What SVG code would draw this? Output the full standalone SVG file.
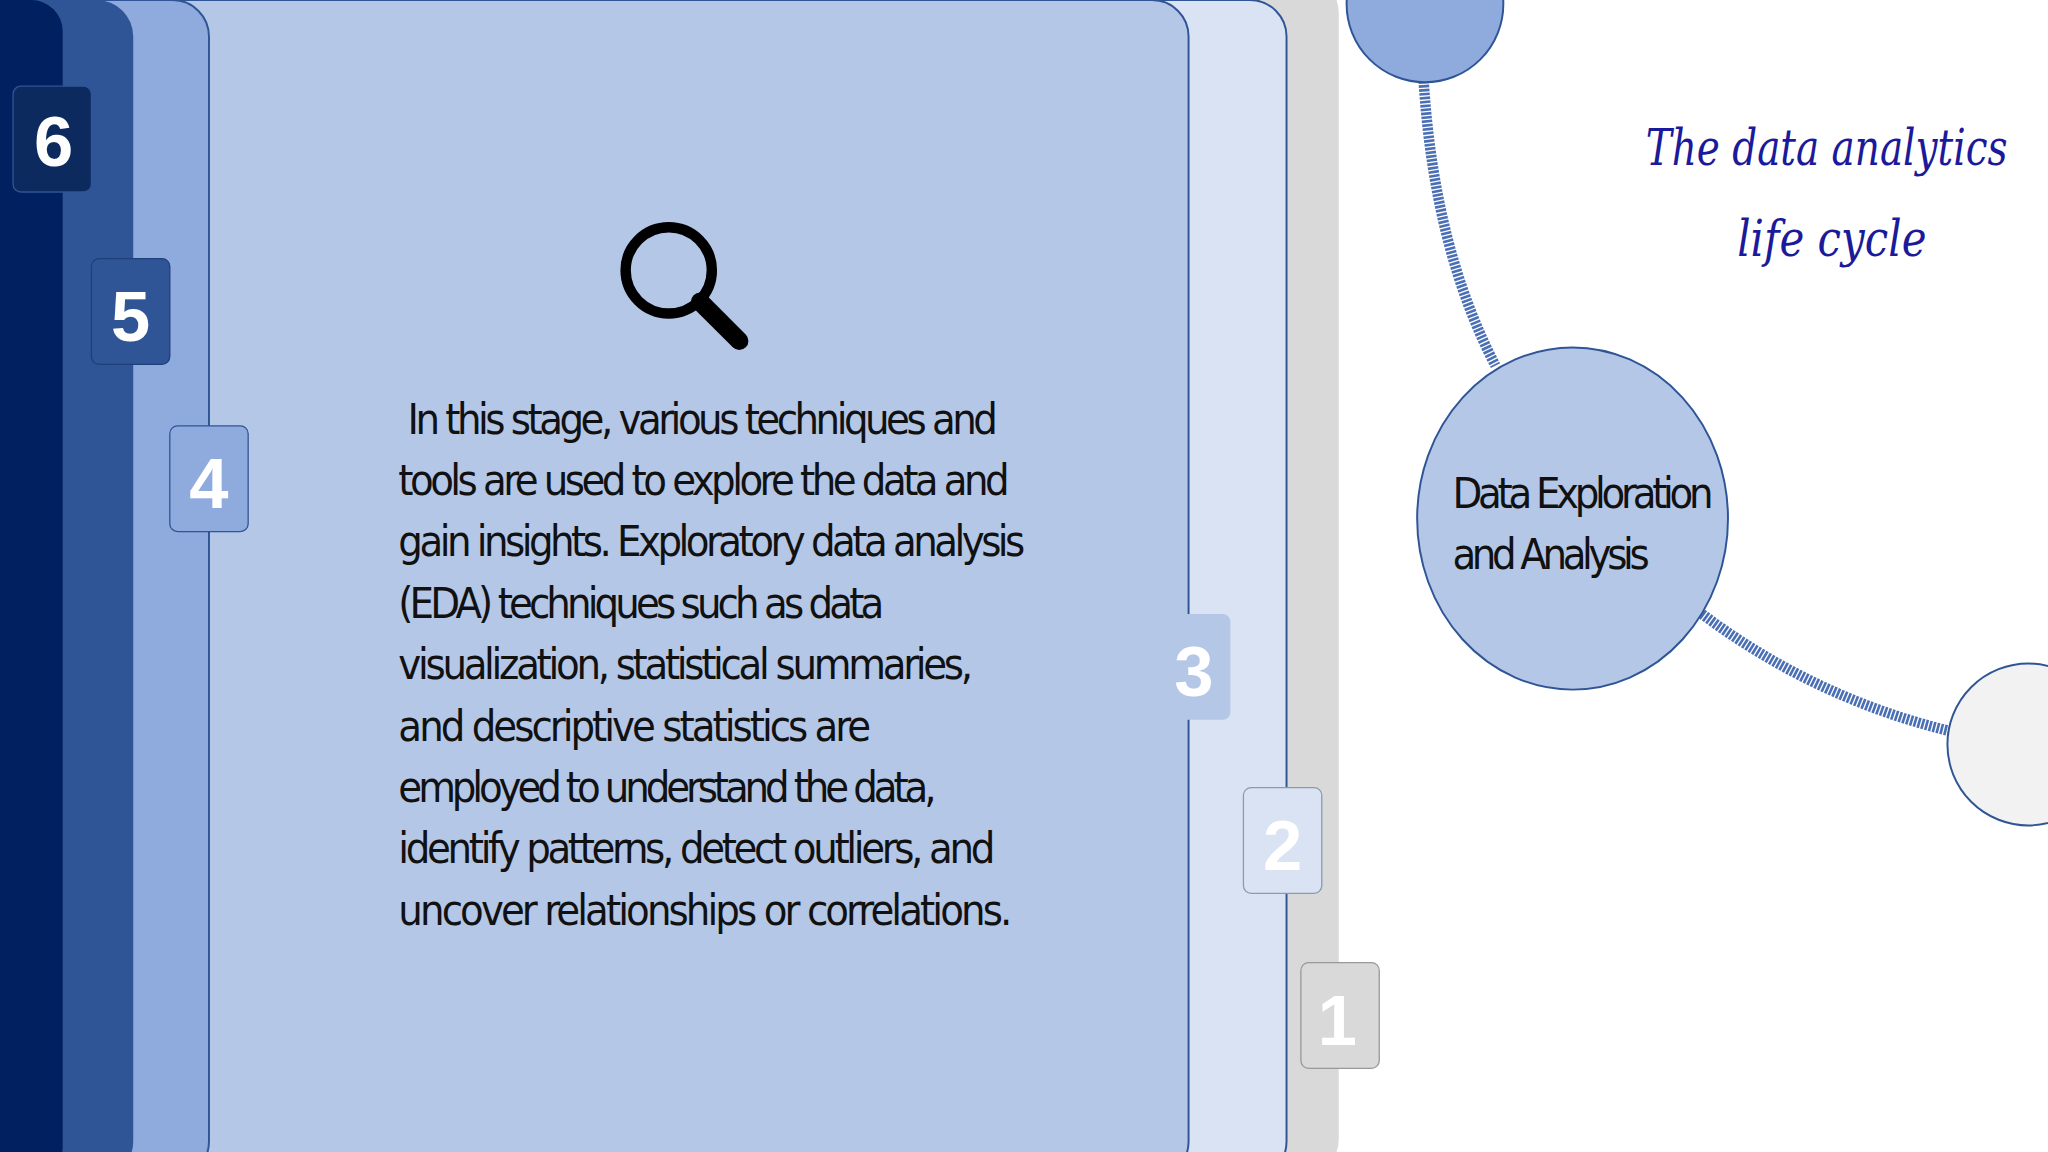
<svg xmlns="http://www.w3.org/2000/svg" width="2048" height="1152" viewBox="0 0 2048 1152">
<style>
.num{font-family:"Liberation Sans",Arial,sans-serif;font-weight:bold;font-size:54px;fill:#fff;text-anchor:middle}
.body{font-family:"DejaVu Sans Condensed","Liberation Sans Narrow","Liberation Sans",sans-serif;font-size:33px;fill:#111;font-stretch:condensed}
.tab{stroke:#2f5597;stroke-width:1}
.conn{fill:none;stroke:#4a6fb5;stroke-width:8;stroke-dasharray:2 1}
</style>
<rect width="2048" height="1152" fill="#fff"/>
<g transform="scale(1.30612)">
<g id="panel1"><rect x="-40" y="-20" width="1065" height="922" rx="30" fill="#d9d9d9"/></g>
<g id="panel2"><rect x="-40" y="0" width="1025" height="902" rx="28" fill="#dae3f3" stroke="#2f5597" stroke-width="1.5"/></g>
<g id="panel3"><rect x="-40" y="0" width="950" height="902" rx="28" fill="#b4c7e7" stroke="#2f5597" stroke-width="1.5"/></g>
<g id="panel4"><rect x="-40" y="0" width="200" height="902" rx="28" fill="#8faadc" stroke="#2f5597" stroke-width="1.5"/></g>
<g id="panel5"><rect x="-40" y="0" width="142" height="902" rx="28" fill="#2f5597"/></g>
<g id="panel6"><rect x="-40" y="0" width="88" height="902" rx="24" fill="#002060"/></g>
<g id="tab6"><rect x="10" y="66" width="60" height="81" rx="6" fill="#0c2a5e" class="tab"/><text class="num" x="41" y="127">6</text></g>
<g id="tab5"><rect x="70" y="198" width="60" height="81" rx="6" fill="#2f5597" stroke="#1f3f7a"/><text class="num" x="100" y="261">5</text></g>
<g id="tab4"><rect x="130" y="326" width="60" height="81" rx="6" fill="#8faadc" class="tab"/><text class="num" x="160" y="389">4</text></g>
<g id="tab3"><rect x="882" y="470" width="60" height="81" rx="6" fill="#b4c7e7" stroke="none"/><text class="num" x="914" y="533">3</text></g>
<g id="tab2"><rect x="952" y="603" width="60" height="81" rx="6" fill="#dae3f3" stroke="#8a9ab0"/><text class="num" x="982" y="666">2</text></g>
<g id="tab1"><rect x="996" y="737" width="60" height="81" rx="6" fill="#d9d9d9" stroke="#999"/><text class="num" x="1024" y="800">1</text></g>
<g id="icon"><circle cx="512" cy="207" r="33" fill="none" stroke="#000" stroke-width="8"/><line x1="536" y1="231" x2="566" y2="261" stroke="#000" stroke-width="14" stroke-linecap="round"/></g>
<g id="text">
<text class="body" x="312" y="332" textLength="452">In this stage, various techniques and</text>
<text class="body" x="305" y="379" textLength="468">tools are used to explore the data and</text>
<text class="body" x="305" y="426" textLength="480">gain insights. Exploratory data analysis</text>
<text class="body" x="305" y="473" textLength="372">(EDA) techniques such as data</text>
<text class="body" x="305" y="520" textLength="440">visualization, statistical summaries,</text>
<text class="body" x="305" y="567" textLength="362">and descriptive statistics are</text>
<text class="body" x="305" y="614" textLength="412">employed to understand the data,</text>
<text class="body" x="305" y="661" textLength="457">identify patterns, detect outliers, and</text>
<text class="body" x="305" y="708" textLength="470">uncover relationships or correlations.</text>
</g>
<g id="connectors">
<path class="conn" d="M1090 62 Q1098 190 1145 280"/>
<path class="conn" d="M1303 470 Q1390 535 1494 560"/>
</g>
<g id="node-top"><circle cx="1091" cy="3" r="60" fill="#8faadc" stroke="#2f5597" stroke-width="1.5"/></g>
<g id="node-main"><ellipse cx="1204" cy="397" rx="119" ry="131" fill="#b4c7e7" stroke="#2f5597" stroke-width="1.5"/>
<text class="body" x="1112" y="389" textLength="200">Data Exploration</text>
<text class="body" x="1112" y="436" textLength="151">and Analysis</text></g>
<g id="node-right"><circle cx="1553" cy="570" r="62" fill="#f2f2f2" stroke="#2f5597" stroke-width="1.5"/></g>
<g id="title" font-family="'DejaVu Serif','Liberation Serif',serif" font-style="italic" font-size="38" fill="#1a1a9a">
<text x="1260" y="126" textLength="277" lengthAdjust="spacingAndGlyphs">The data analytics</text>
<text x="1330" y="196" textLength="145" lengthAdjust="spacingAndGlyphs">life cycle</text>
</g>
</g>
</svg>
